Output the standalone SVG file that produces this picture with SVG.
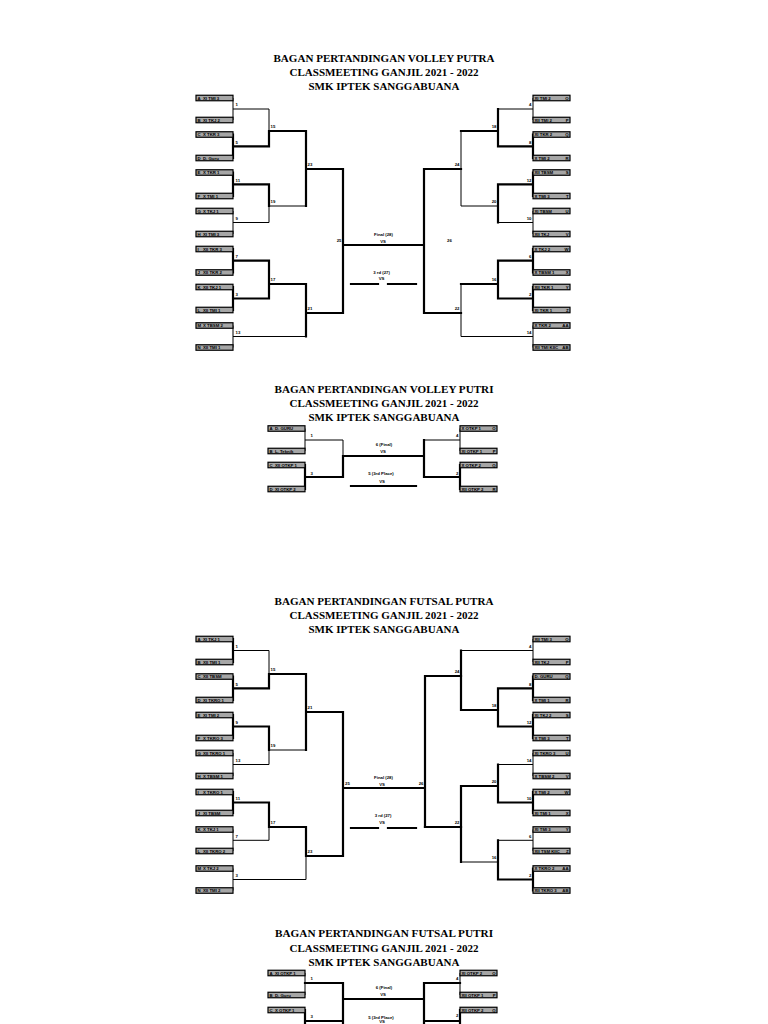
<svg xmlns="http://www.w3.org/2000/svg" width="768" height="1024" viewBox="0 0 768 1024">
<style>
.bg{fill:#fff}
.title{font-family:"Liberation Serif",serif;font-weight:bold;font-size:11px;fill:#000;text-anchor:middle}
.box rect{fill:#a6a6a6;stroke:#000;stroke-width:1.2}
.box text{font-family:"Liberation Sans",Arial,sans-serif;font-weight:bold;font-size:4.3px;fill:#000}
.box text.r{text-anchor:end}
.thin{fill:none;stroke:#000;stroke-width:1}
.thick{fill:none;stroke:#000;stroke-width:2.2;stroke-linecap:square}
.n{font-family:"Liberation Sans",Arial,sans-serif;font-weight:bold;font-size:4.3px;fill:#000}
.ne{text-anchor:end}
.nc{text-anchor:middle}
</style>
<rect class="bg" x="0" y="0" width="768" height="1024"/>

<!-- ===================== VOLLEY PUTRA ===================== -->
<g id="vp-title">
<text class="title" x="384" y="61.5" textLength="221" lengthAdjust="spacingAndGlyphs">BAGAN PERTANDINGAN VOLLEY PUTRA</text>
<text class="title" x="384" y="75.5" textLength="189" lengthAdjust="spacingAndGlyphs">CLASSMEETING GANJIL 2021 - 2022</text>
<text class="title" x="384" y="89.5" textLength="151" lengthAdjust="spacingAndGlyphs">SMK IPTEK SANGGABUANA</text>
</g>

<g id="vp-connectors">
<path class="thin" d="M233 98V120M233 109H269M269 109V131M233 211V234M233 222.5H269M269 206V222.5M269 206H306M233 325.5V347.5M233 336.5H306"/>
<path class="thick" d="M233 134.5V158M233 146.3H269M269 131V146.3M269 131H306M306 131V206M306 169H343M233 172.5V196M233 184.3H269M269 184.3V206M233 249V272.5M233 260.7H269M233 287V310M233 298.5H269M269 260.7V298.5M269 284H306M306 284V336.5M306 313H343M343 169V313M343 245H424M424 169V313M424 169H461M424 313H461M351 284H378M388 284H416"/>
<path class="thin" d="M533 98V120M533 109H498M461 131V206M498 206H461M533 211V234M533 222.5H498M461 284V336.5M533 325.5V347.5M533 336.5H461"/>
<path class="thick" d="M533 134.5V158M533 146.3H498M498 109V146.3M498 131H461M533 172.5V196M533 184.3H498M498 184.3V222.5M533 249V272.5M533 260.7H498M533 287V310M533 298.5H498M498 260.7V298.5M498 284H461"/>
</g>

<g id="vp-labels">
<text class="n" x="235.5" y="106">1</text>
<text class="n" x="235.5" y="143.5">5</text>
<text class="n" x="235.5" y="181.5">11</text>
<text class="n" x="235.5" y="219.5">9</text>
<text class="n" x="235.5" y="257.5">7</text>
<text class="n" x="235.5" y="295.5">3</text>
<text class="n" x="235.5" y="333.5">13</text>
<text class="n" x="270.5" y="128">15</text>
<text class="n" x="270.5" y="203">19</text>
<text class="n" x="270.5" y="281">17</text>
<text class="n" x="307.5" y="166">23</text>
<text class="n" x="307.5" y="310">21</text>
<text class="n ne" x="341.5" y="242">25</text>
<text class="n ne" x="531.5" y="106">4</text>
<text class="n ne" x="531.5" y="143.5">8</text>
<text class="n ne" x="531.5" y="181.5">12</text>
<text class="n ne" x="531.5" y="219.5">10</text>
<text class="n ne" x="531.5" y="257.5">6</text>
<text class="n ne" x="531.5" y="295.5">2</text>
<text class="n ne" x="531.5" y="333.5">14</text>
<text class="n ne" x="496.5" y="128">18</text>
<text class="n ne" x="496.5" y="203">20</text>
<text class="n ne" x="496.5" y="281">16</text>
<text class="n ne" x="459.5" y="166">24</text>
<text class="n ne" x="459.5" y="310">22</text>
<text class="n" x="447" y="242">26</text>
<text class="n nc" x="383.5" y="235.5">Final (28)</text>
<text class="n nc" x="383" y="242.5">VS</text>
<text class="n nc" x="381.5" y="273.5">3 rd (27)</text>
<text class="n nc" x="381.5" y="280">VS</text>
</g>

<g id="vp-A" class="box"><rect x="196" y="95.25" width="37" height="5.5"/><text x="197.5" y="99.6">A</text><text x="203" y="99.6">XI TMI 3</text></g>
<g id="vp-B" class="box"><rect x="196" y="117.25" width="37" height="5.5"/><text x="197.5" y="121.6">B</text><text x="203" y="121.6">XI TKJ 2</text></g>
<g id="vp-C" class="box"><rect x="196" y="131.75" width="37" height="5.5"/><text x="197.5" y="136.1">C</text><text x="203" y="136.1">X TKR 3</text></g>
<g id="vp-D" class="box"><rect x="196" y="155.25" width="37" height="5.5"/><text x="197.5" y="159.6">D</text><text x="203" y="159.6">D. Guru</text></g>
<g id="vp-E" class="box"><rect x="196" y="169.75" width="37" height="5.5"/><text x="197.5" y="174.1">E</text><text x="203" y="174.1">X TKR 1</text></g>
<g id="vp-F" class="box"><rect x="196" y="193.25" width="37" height="5.5"/><text x="197.5" y="197.6">F</text><text x="203" y="197.6">X TMI 1</text></g>
<g id="vp-G" class="box"><rect x="196" y="208.25" width="37" height="5.5"/><text x="197.5" y="212.6">G</text><text x="203" y="212.6">X TKJ 1</text></g>
<g id="vp-H" class="box"><rect x="196" y="231.25" width="37" height="5.5"/><text x="197.5" y="235.6">H</text><text x="203" y="235.6">XI TMI 3</text></g>
<g id="vp-I" class="box"><rect x="196" y="246.25" width="37" height="5.5"/><text x="197.5" y="250.6">I</text><text x="203" y="250.6">XII TKR 3</text></g>
<g id="vp-J" class="box"><rect x="196" y="269.75" width="37" height="5.5"/><text x="197.5" y="274.1">J</text><text x="203" y="274.1">XII TKR 2</text></g>
<g id="vp-K" class="box"><rect x="196" y="284.25" width="37" height="5.5"/><text x="197.5" y="288.6">K</text><text x="203" y="288.6">XII TKJ 1</text></g>
<g id="vp-L" class="box"><rect x="196" y="307.25" width="37" height="5.5"/><text x="197.5" y="311.6">L</text><text x="203" y="311.6">XII TMI 1</text></g>
<g id="vp-M" class="box"><rect x="196" y="322.75" width="37" height="5.5"/><text x="197.5" y="327.1">M</text><text x="203" y="327.1">X TBSM 2</text></g>
<g id="vp-N" class="box"><rect x="196" y="344.75" width="37" height="5.5"/><text x="197.5" y="349.1">N</text><text x="203" y="349.1">XII TMI 1</text></g>

<g id="vp-O" class="box"><rect x="533" y="95.25" width="37" height="5.5"/><text x="534.5" y="99.6">XI TMI 2</text><text class="r" x="568.5" y="99.6">O</text></g>
<g id="vp-P" class="box"><rect x="533" y="117.25" width="37" height="5.5"/><text x="534.5" y="121.6">XII TMI 2</text><text class="r" x="568.5" y="121.6">P</text></g>
<g id="vp-Q" class="box"><rect x="533" y="131.75" width="37" height="5.5"/><text x="534.5" y="136.1">XI TKR 2</text><text class="r" x="568.5" y="136.1">Q</text></g>
<g id="vp-R" class="box"><rect x="533" y="155.25" width="37" height="5.5"/><text x="534.5" y="159.6">X TMI 2</text><text class="r" x="568.5" y="159.6">R</text></g>
<g id="vp-S" class="box"><rect x="533" y="169.75" width="37" height="5.5"/><text x="534.5" y="174.1">XII TBSM</text><text class="r" x="568.5" y="174.1">S</text></g>
<g id="vp-T" class="box"><rect x="533" y="193.25" width="37" height="5.5"/><text x="534.5" y="197.6">X TMI 3</text><text class="r" x="568.5" y="197.6">T</text></g>
<g id="vp-U" class="box"><rect x="533" y="208.25" width="37" height="5.5"/><text x="534.5" y="212.6">XI TBSM</text><text class="r" x="568.5" y="212.6">U</text></g>
<g id="vp-V" class="box"><rect x="533" y="231.25" width="37" height="5.5"/><text x="534.5" y="235.6">XII TKJ</text><text class="r" x="568.5" y="235.6">V</text></g>
<g id="vp-W" class="box"><rect x="533" y="246.25" width="37" height="5.5"/><text x="534.5" y="250.6">X TKJ 2</text><text class="r" x="568.5" y="250.6">W</text></g>
<g id="vp-X" class="box"><rect x="533" y="269.75" width="37" height="5.5"/><text x="534.5" y="274.1">X TBSM 1</text><text class="r" x="568.5" y="274.1">X</text></g>
<g id="vp-Y" class="box"><rect x="533" y="284.25" width="37" height="5.5"/><text x="534.5" y="288.6">XII TKR 1</text><text class="r" x="568.5" y="288.6">Y</text></g>
<g id="vp-Z" class="box"><rect x="533" y="307.25" width="37" height="5.5"/><text x="534.5" y="311.6">XI TKR 1</text><text class="r" x="568.5" y="311.6">Z</text></g>
<g id="vp-AA" class="box"><rect x="533" y="322.75" width="37" height="5.5"/><text x="534.5" y="327.1">X TKR 2</text><text class="r" x="568.5" y="327.1">AA</text></g>
<g id="vp-AB" class="box"><rect x="533" y="344.75" width="37" height="5.5"/><text x="534.5" y="349.1">XII TMI KIIC</text><text class="r" x="568.5" y="349.1">AB</text></g>

<!-- ===================== VOLLEY PUTRI ===================== -->
<g id="vpi-title">
<text class="title" x="384" y="393" textLength="219" lengthAdjust="spacingAndGlyphs">BAGAN PERTANDINGAN VOLLEY PUTRI</text>
<text class="title" x="384" y="407" textLength="189" lengthAdjust="spacingAndGlyphs">CLASSMEETING GANJIL 2021 - 2022</text>
<text class="title" x="384" y="421" textLength="151" lengthAdjust="spacingAndGlyphs">SMK IPTEK SANGGABUANA</text>
</g>
<g id="vpi-connectors">
<path class="thin" d="M305 428.5V451M305 440H343M343 440V456M460 428.5V451M460 440H424"/>
<path class="thick" d="M305 465V489M305 477H343M343 456V477M343 456H424M424 440V477M460 465V489M460 477H424M351 486H416"/>
</g>
<g id="vpi-labels">
<text class="n" x="310.5" y="437">1</text>
<text class="n" x="310.5" y="474.5">3</text>
<text class="n ne" x="458.5" y="437">4</text>
<text class="n ne" x="458.5" y="474.5">2</text>
<text class="n nc" x="384" y="446">6 (Final)</text>
<text class="n nc" x="383" y="452.5">VS</text>
<text class="n nc" x="381" y="475">5 (3rd Place)</text>
<text class="n nc" x="382" y="482.5">VS</text>
</g>
<g id="vpi-A" class="box"><rect x="268" y="425.75" width="37" height="5.5"/><text x="269.5" y="430.1">A</text><text x="275" y="430.1">D. GURU</text></g>
<g id="vpi-B" class="box"><rect x="268" y="448.25" width="37" height="5.5"/><text x="269.5" y="452.6">B</text><text x="275" y="452.6">L. Teknik</text></g>
<g id="vpi-C" class="box"><rect x="268" y="462.25" width="37" height="5.5"/><text x="269.5" y="466.6">C</text><text x="275" y="466.6">XII OTKP 1</text></g>
<g id="vpi-D" class="box"><rect x="268" y="486.25" width="37" height="5.5"/><text x="269.5" y="490.6">D</text><text x="275" y="490.6">XI OTKP 2</text></g>
<g id="vpi-O" class="box"><rect x="460" y="425.75" width="37" height="5.5"/><text x="461.5" y="430.1">X OTKP 1</text><text class="r" x="495.5" y="430.1">O</text></g>
<g id="vpi-P" class="box"><rect x="460" y="448.25" width="37" height="5.5"/><text x="461.5" y="452.6">XI OTKP 1</text><text class="r" x="495.5" y="452.6">P</text></g>
<g id="vpi-Q" class="box"><rect x="460" y="462.25" width="37" height="5.5"/><text x="461.5" y="466.6">X OTKP 2</text><text class="r" x="495.5" y="466.6">Q</text></g>
<g id="vpi-R" class="box"><rect x="460" y="486.25" width="37" height="5.5"/><text x="461.5" y="490.6">XII OTKP 2</text><text class="r" x="495.5" y="490.6">R</text></g>

<!-- ===================== FUTSAL PUTRA ===================== -->
<g id="fp-title">
<text class="title" x="384" y="605" textLength="219" lengthAdjust="spacingAndGlyphs">BAGAN PERTANDINGAN FUTSAL PUTRA</text>
<text class="title" x="384" y="619" textLength="189" lengthAdjust="spacingAndGlyphs">CLASSMEETING GANJIL 2021 - 2022</text>
<text class="title" x="384" y="632.5" textLength="151" lengthAdjust="spacingAndGlyphs">SMK IPTEK SANGGABUANA</text>
</g>
<g id="fp-connectors">
<path class="thin" d="M233 650.5H269M269 650.5V674M233 753V776M233 764.5H269M269 750V764.5M269 750H306M233 829.5V851M233 840.3H269M269 827V840.3M233 868.5V890.5M233 879.5H306M306 856V879.5"/>
<path class="thick" d="M233 639V662M233 676.5V700M233 688.3H269M269 674V688.3M269 674H306M233 715V738M233 726.5H269M269 726.5V750M306 674V750M306 712H343M233 792V813M233 802.5H269M269 802.5V827M269 827H306M306 827V856M306 856H343M343 712V856M343 788H425M425 676V827M425 676H461M425 827H461M351 828H378M388 828H416"/>
<path class="thin" d="M533 639V662M533 650.5H461M533 753V776M533 764.5H498M533 829.5V851M533 840.3H498M498 862H461"/>
<path class="thick" d="M461 650.5V710M533 676.5V700M533 688.3H498M533 715V738M533 726.5H498M498 688.3V726.5M498 710H461M533 792V813M533 802.5H498M498 764.5V802.5M498 786H461M461 786V862M461 827H425M533 868.5V890.5M533 879.5H498M498 840.3V879.5"/>
</g>
<g id="fp-labels">
<text class="n" x="235.5" y="647.5">1</text>
<text class="n" x="235.5" y="685.5">5</text>
<text class="n" x="235.5" y="723.5">9</text>
<text class="n" x="235.5" y="762">13</text>
<text class="n" x="235.5" y="799.5">11</text>
<text class="n" x="235.5" y="837.5">7</text>
<text class="n" x="235.5" y="876.5">3</text>
<text class="n" x="270.5" y="671">15</text>
<text class="n" x="270.5" y="747">19</text>
<text class="n" x="270.5" y="824">17</text>
<text class="n" x="307.5" y="709">21</text>
<text class="n" x="307.5" y="853">23</text>
<text class="n" x="345" y="785">25</text>
<text class="n ne" x="423.5" y="785">26</text>
<text class="n ne" x="531.5" y="647.5">4</text>
<text class="n ne" x="531.5" y="685.5">8</text>
<text class="n ne" x="531.5" y="723.5">12</text>
<text class="n ne" x="531.5" y="762">14</text>
<text class="n ne" x="531.5" y="799.5">10</text>
<text class="n ne" x="531.5" y="837.5">6</text>
<text class="n ne" x="531.5" y="876.5">2</text>
<text class="n ne" x="496.5" y="707">18</text>
<text class="n ne" x="496.5" y="783">20</text>
<text class="n ne" x="496.5" y="859">16</text>
<text class="n ne" x="459.5" y="673">24</text>
<text class="n ne" x="459.5" y="824">22</text>
<text class="n nc" x="383.5" y="779">Final (28)</text>
<text class="n nc" x="382" y="785.5">VS</text>
<text class="n nc" x="383" y="817">3 rd (27)</text>
<text class="n nc" x="382" y="824">VS</text>
</g>
<g id="fp-A" class="box"><rect x="196" y="636.25" width="37" height="5.5"/><text x="197.5" y="640.6">A</text><text x="203" y="640.6">XI TKJ 1</text></g>
<g id="fp-B" class="box"><rect x="196" y="659.25" width="37" height="5.5"/><text x="197.5" y="663.6">B</text><text x="203" y="663.6">XII TMI 1</text></g>
<g id="fp-C" class="box"><rect x="196" y="673.75" width="37" height="5.5"/><text x="197.5" y="678.1">C</text><text x="203" y="678.1">XII TBSM</text></g>
<g id="fp-D" class="box"><rect x="196" y="697.25" width="37" height="5.5"/><text x="197.5" y="701.6">D</text><text x="203" y="701.6">XI TKRO 1</text></g>
<g id="fp-E" class="box"><rect x="196" y="712.25" width="37" height="5.5"/><text x="197.5" y="716.6">E</text><text x="203" y="716.6">XI TMI 2</text></g>
<g id="fp-F" class="box"><rect x="196" y="735.25" width="37" height="5.5"/><text x="197.5" y="739.6">F</text><text x="203" y="739.6">X TKRO 3</text></g>
<g id="fp-G" class="box"><rect x="196" y="750.25" width="37" height="5.5"/><text x="197.5" y="754.6">G</text><text x="203" y="754.6">XII TKRO 1</text></g>
<g id="fp-H" class="box"><rect x="196" y="773.25" width="37" height="5.5"/><text x="197.5" y="777.6">H</text><text x="203" y="777.6">X TBSM 1</text></g>
<g id="fp-I" class="box"><rect x="196" y="789.25" width="37" height="5.5"/><text x="197.5" y="793.6">I</text><text x="203" y="793.6">X TKRO 1</text></g>
<g id="fp-J" class="box"><rect x="196" y="810.25" width="37" height="5.5"/><text x="197.5" y="814.6">J</text><text x="203" y="814.6">XI TBSM</text></g>
<g id="fp-K" class="box"><rect x="196" y="826.75" width="37" height="5.5"/><text x="197.5" y="831.1">K</text><text x="203" y="831.1">X TKJ 1</text></g>
<g id="fp-L" class="box"><rect x="196" y="848.25" width="37" height="5.5"/><text x="197.5" y="852.6">L</text><text x="203" y="852.6">XII TKRO 2</text></g>
<g id="fp-M" class="box"><rect x="196" y="865.75" width="37" height="5.5"/><text x="197.5" y="870.1">M</text><text x="203" y="870.1">X TKJ 2</text></g>
<g id="fp-N" class="box"><rect x="196" y="887.75" width="37" height="5.5"/><text x="197.5" y="892.1">N</text><text x="203" y="892.1">XII TMI 2</text></g>

<g id="fp-O" class="box"><rect x="533" y="636.25" width="37" height="5.5"/><text x="534.5" y="640.6">XII TMI 3</text><text class="r" x="568.5" y="640.6">O</text></g>
<g id="fp-P" class="box"><rect x="533" y="659.25" width="37" height="5.5"/><text x="534.5" y="663.6">XII TKJ</text><text class="r" x="568.5" y="663.6">P</text></g>
<g id="fp-Q" class="box"><rect x="533" y="673.75" width="37" height="5.5"/><text x="534.5" y="678.1">D. GURU</text><text class="r" x="568.5" y="678.1">Q</text></g>
<g id="fp-R" class="box"><rect x="533" y="697.25" width="37" height="5.5"/><text x="534.5" y="701.6">X TMI 1</text><text class="r" x="568.5" y="701.6">R</text></g>
<g id="fp-S" class="box"><rect x="533" y="712.25" width="37" height="5.5"/><text x="534.5" y="716.6">XI TKJ 2</text><text class="r" x="568.5" y="716.6">S</text></g>
<g id="fp-T" class="box"><rect x="533" y="735.25" width="37" height="5.5"/><text x="534.5" y="739.6">X TMI 3</text><text class="r" x="568.5" y="739.6">T</text></g>
<g id="fp-U" class="box"><rect x="533" y="750.25" width="37" height="5.5"/><text x="534.5" y="754.6">XI TKRO 3</text><text class="r" x="568.5" y="754.6">U</text></g>
<g id="fp-V" class="box"><rect x="533" y="773.25" width="37" height="5.5"/><text x="534.5" y="777.6">X TBSM 2</text><text class="r" x="568.5" y="777.6">V</text></g>
<g id="fp-W" class="box"><rect x="533" y="789.25" width="37" height="5.5"/><text x="534.5" y="793.6">X TMI 2</text><text class="r" x="568.5" y="793.6">W</text></g>
<g id="fp-X" class="box"><rect x="533" y="810.25" width="37" height="5.5"/><text x="534.5" y="814.6">XI TMI 1</text><text class="r" x="568.5" y="814.6">X</text></g>
<g id="fp-Y" class="box"><rect x="533" y="826.75" width="37" height="5.5"/><text x="534.5" y="831.1">XI TMI 3</text><text class="r" x="568.5" y="831.1">Y</text></g>
<g id="fp-Z" class="box"><rect x="533" y="848.25" width="37" height="5.5"/><text x="534.5" y="852.6">XII TSM KIIC</text><text class="r" x="568.5" y="852.6">Z</text></g>
<g id="fp-AA" class="box"><rect x="533" y="865.75" width="37" height="5.5"/><text x="534.5" y="870.1">X TKRO 2</text><text class="r" x="568.5" y="870.1">AA</text></g>
<g id="fp-AB" class="box"><rect x="533" y="887.75" width="37" height="5.5"/><text x="534.5" y="892.1">XII TKRO 3</text><text class="r" x="568.5" y="892.1">AB</text></g>

<!-- ===================== FUTSAL PUTRI ===================== -->
<g id="fpi-title">
<text class="title" x="384" y="937" textLength="218" lengthAdjust="spacingAndGlyphs">BAGAN PERTANDINGAN FUTSAL PUTRI</text>
<text class="title" x="384" y="951.5" textLength="189" lengthAdjust="spacingAndGlyphs">CLASSMEETING GANJIL 2021 - 2022</text>
<text class="title" x="384" y="965.5" textLength="151" lengthAdjust="spacingAndGlyphs">SMK IPTEK SANGGABUANA</text>
</g>
<g id="fpi-connectors">
<path class="thin" d="M305 973V995M460 973V995"/>
<path class="thick" d="M305 983H343M343 983V1030M343 999H424M424 983V1030M460 983H424M305 1010V1030M305 1021H343M460 1010V1030M460 1021H424"/>
</g>
<g id="fpi-labels">
<text class="n" x="310.5" y="979.5">1</text>
<text class="n" x="310.5" y="1018">3</text>
<text class="n ne" x="458.5" y="979.5">4</text>
<text class="n ne" x="458.5" y="1017">2</text>
<text class="n nc" x="384" y="988.5">6 (Final)</text>
<text class="n nc" x="383" y="995.5">VS</text>
<text class="n nc" x="381" y="1018.5">5 (3rd Place)</text>
<text class="n nc" x="382" y="1023">VS</text>
</g>
<g id="fpi-A" class="box"><rect x="268" y="970.25" width="37" height="5.5"/><text x="269.5" y="974.6">A</text><text x="275" y="974.6">XI OTKP 1</text></g>
<g id="fpi-B" class="box"><rect x="268" y="992.25" width="37" height="5.5"/><text x="269.5" y="996.6">B</text><text x="275" y="996.6">D. Guru</text></g>
<g id="fpi-C" class="box"><rect x="268" y="1007.25" width="37" height="5.5"/><text x="269.5" y="1011.6">C</text><text x="275" y="1011.6">X OTKP 1</text></g>
<g id="fpi-O" class="box"><rect x="460" y="970.25" width="37" height="5.5"/><text x="461.5" y="974.6">XI OTKP 2</text><text class="r" x="495.5" y="974.6">O</text></g>
<g id="fpi-P" class="box"><rect x="460" y="992.25" width="37" height="5.5"/><text x="461.5" y="996.6">XII OTKP 1</text><text class="r" x="495.5" y="996.6">P</text></g>
<g id="fpi-Q" class="box"><rect x="460" y="1007.25" width="37" height="5.5"/><text x="461.5" y="1011.6">XII OTKP 2</text><text class="r" x="495.5" y="1011.6">Q</text></g>
</svg>
